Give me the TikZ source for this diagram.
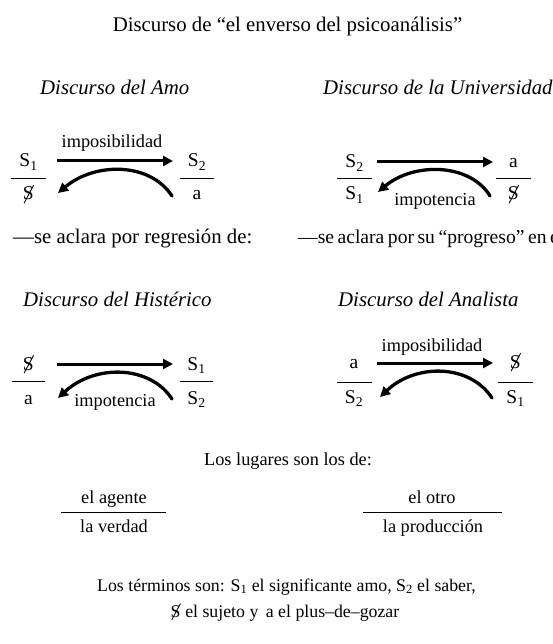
\documentclass[tikz,border=0pt]{standalone}
\usepackage{fontspec}
\usepackage{graphicx}
\setmainfont{Liberation Serif}
\usetikzlibrary{arrows.meta}
\newcommand\Ssl{\ooalign{S\cr\kern0.04em\raisebox{-0.17em}{\rotatebox{62}{\rule{1.04em}{0.045em}}}\hfil\cr}}
\tikzset{
  big/.style={font=\fontsize{20.8}{24}\selectfont, inner sep=0pt},
  term/.style={font=\fontsize{19.5}{22}\selectfont, inner sep=0pt, anchor=base},
  lab/.style={font=\fontsize{18.3}{22}\selectfont, inner sep=0pt, anchor=base},
  fin/.style={font=\fontsize{17.8}{22}\selectfont, inner sep=0pt, anchor=base},
  fracrule/.style={line width=0.8pt},
  arr/.style={line width=3pt, -{Triangle[length=10pt,width=10pt]}},
  carr/.style={line width=3.3pt, line cap=round, -{Triangle[length=10pt,width=10pt]}},
}
\begin{document}
\begin{tikzpicture}[x=1pt,y=-1pt]
\fill[white] (0,0) rectangle (553,644);
\useasboundingbox (0,0) rectangle (553,644);

% title
\node[big, anchor=base] (title) at (287.5,32) {Discurso de “el enverso del psicoanálisis”};

% headings
\node[big, anchor=base west] (hAmo) at (40,94.5) {\itshape Discurso del Amo};
\node[big, anchor=base west] (hUni) at (323,94.5) {\itshape Discurso de la Universidad};
\node[big, anchor=base west] (hHis) at (23,306) {\itshape Discurso del Histérico};
\node[big, anchor=base west] (hAna) at (338,306) {\itshape Discurso del Analista};

% ---------- Discurso del Amo (y0 = 161)
\node[term] (amoNL) at (28.5,167) {S\textsubscript{1}};
\node[term] (amoDL) at (28.5,200) {\Ssl};
\node[term] (amoNR) at (197,167) {S\textsubscript{2}};
\node[term] (amoDR) at (197,200) {a};
\draw[fracrule] (11,178) -- (46,178);
\draw[fracrule] (180,178) -- (214,178);
\coordinate (amoA1) at (57,161);
\coordinate (amoA2) at (173,161);
\draw[arr] (amoA1) -- (amoA2);
\node[lab] (amoImp) at (112,148) {imposibilidad};
\coordinate (amoC1) at (172,196);
\coordinate (amoC2) at (58,193);
\draw[carr] (amoC1) .. controls (150,162) and (95,162) .. (amoC2);
\node[big, anchor=base west] (amoSe) at (13,243) {—se aclara por regresión de:};

% ---------- Discurso de la Universidad (y0 = 162)
\node[term] (uniNL) at (354.5,168) {S\textsubscript{2}};
\node[term] (uniDL) at (354.5,200) {S\textsubscript{1}};
\node[term] (uniNR) at (513.5,168) {a};
\node[term] (uniDR) at (513.5,200) {\Ssl};
\draw[fracrule] (337,178) -- (372,178);
\draw[fracrule] (496,178) -- (531,178);
\coordinate (uniA1) at (377,162);
\coordinate (uniA2) at (493,162);
\draw[arr] (uniA1) -- (uniA2);
\coordinate (uniC1) at (490,196);
\coordinate (uniC2) at (378,192);
\draw[carr] (uniC1) .. controls (470,163) and (414,162) .. (uniC2);
\node[lab] (uniImp) at (435,206) {impotencia};
\node[big, font=\fontsize{19.6}{24}\selectfont, anchor=base west] (uniSe) at (298,243) {\spaceskip=0.18em —se aclara por su “progreso” en el};

% ---------- Discurso del Histérico (y0 = 364)
\node[term] (hisNL) at (28.5,370) {\Ssl};
\node[term] (hisDL) at (28.5,404) {a};
\node[term] (hisNR) at (196.5,370) {S\textsubscript{1}};
\node[term] (hisDR) at (196.5,404) {S\textsubscript{2}};
\draw[fracrule] (12,381) -- (45,381);
\draw[fracrule] (180,381) -- (213,381);
\coordinate (hisA1) at (57,364);
\coordinate (hisA2) at (173,364);
\draw[arr] (hisA1) -- (hisA2);
\coordinate (hisC1) at (172,399);
\coordinate (hisC2) at (58,398);
\draw[carr] (hisC1) .. controls (150,365) and (95,364) .. (hisC2);
\node[lab] (hisImp) at (115,406) {impotencia};

% ---------- Discurso del Analista (y0 = 363)
\node[term] (anaNL) at (354,368) {a};
\node[term] (anaDL) at (354,403) {S\textsubscript{2}};
\node[term] (anaNR) at (515.5,368) {\Ssl};
\node[term] (anaDR) at (515.5,403) {S\textsubscript{1}};
\draw[fracrule] (337,382) -- (372,382);
\draw[fracrule] (498,382) -- (533,382);
\coordinate (anaA1) at (377,363);
\coordinate (anaA2) at (493,363);
\draw[arr] (anaA1) -- (anaA2);
\node[lab] (anaImp) at (432,351) {imposibilidad};
\coordinate (anaC1) at (492,398);
\coordinate (anaC2) at (380,397);
\draw[carr] (anaC1) .. controls (470,364) and (416,363) .. (anaC2);

% ---------- Lugares
\node[lab] (lug) at (288,465) {Los lugares son los de:};
\node[lab] (agente) at (114,503) {el agente};
\draw[fracrule] (61,512) -- (166,512);
\node[lab] (verdad) at (114,532) {la verdad};
\node[lab] (otro) at (432,503) {el otro};
\draw[fracrule] (363,512) -- (502,512);
\node[lab] (prod) at (433,532) {la producción};

% ---------- Términos
\node[fin] (ter1) at (286.5,591) {Los términos son: S\textsubscript{1} el significante amo, S\textsubscript{2} el saber,};
\node[fin] (ter2) at (285,617) {\Ssl{} el sujeto y \,a el plus–de–gozar};
\end{tikzpicture}
\end{document}
